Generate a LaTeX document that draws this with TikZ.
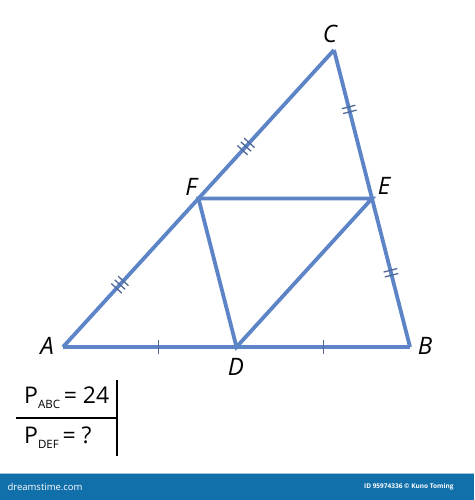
\documentclass[tikz,border=0pt]{standalone}
\usepackage{fontspec}
\setmainfont{Open Sans}
\usetikzlibrary{positioning,decorations.markings}

\definecolor{sideblue}{RGB}{92,132,198}
\definecolor{tickblue}{RGB}{80,105,150}
\definecolor{barblue}{RGB}{17,112,170}

\tikzset{
  side/.style={draw=sideblue, line width=3.8pt},
  tickline/.style={draw=tickblue, line width=1.3pt},
  vlabel/.style={font=\fontsize{24}{24}\selectfont\itshape, inner sep=0pt},
  calc/.style={font=\fontsize{23}{23}\selectfont, inner sep=0pt, anchor=base west},
  onetick/.style={postaction={decorate, decoration={markings,
      mark=at position #1 with {\draw[tickline] (0,-7pt) -- (0,7pt);}}}},
  twotick/.style={postaction={decorate, decoration={markings,
      mark=at position #1 with {\draw[tickline] (-2.5pt,-7pt) -- (-2.5pt,7pt) (2.5pt,-7pt) -- (2.5pt,7pt);}}}},
  threetick/.style={postaction={decorate, decoration={markings,
      mark=at position #1 with {\draw[tickline] (-5pt,-7pt) -- (-5pt,7pt) (0,-7pt) -- (0,7pt) (5pt,-7pt) -- (5pt,7pt);}}}}
}

\begin{document}
\begin{tikzpicture}[x=1pt,y=-1pt]
  \useasboundingbox (0,0) rectangle (474,500);

  % vertices and midpoints
  \coordinate (A) at (63,347);
  \coordinate (B) at (410,347);
  \coordinate (C) at (334,50);
  \coordinate (D) at (236.5,347);
  \coordinate (E) at (372,198.5);
  \coordinate (F) at (198.5,198.5);

  % big triangle
  \draw[side, onetick=0.55] (A) -- (D);
  \draw[side, onetick=0.5] (D) -- (B);
  \draw[side, twotick=0.5] (B) -- (E);
  \draw[side, twotick=0.6] (E) -- (C);
  \draw[side, threetick=0.42] (A) -- (F);
  \draw[side, threetick=0.35] (F) -- (C);

  % midpoint triangle
  \draw[side] (F) -- (E) -- (D) -- cycle;

  \node[vlabel] (lblA) at (47,346) {A};
  \node[vlabel] (lblB) at (425,346) {B};
  \node[vlabel] (lblC) at (330,34) {C};
  \node[vlabel] (lblD) at (236,367) {D};
  \node[vlabel] (lblE) at (384,186) {E};
  \node[vlabel] (lblF) at (191,187) {F};

  % given / asked
  \node[calc] (pabc) at (24,403) {P\raisebox{-5pt}{\fontsize{11.5}{11.5}\selectfont ABC}\,= 24};
  \node[calc] (pdef) at (24,443) {P\raisebox{-5pt}{\fontsize{11.5}{11.5}\selectfont DEF}\,= ?};
  \coordinate (hl) at (16,418);
  \coordinate (hr) at (117,418);
  \coordinate (vt) at (117,380);
  \coordinate (vb) at (117,456);
  \draw[line width=2pt] (hl) -- (hr);
  \draw[line width=2pt] (vt) -- (vb);

  % bottom bar
  \fill[barblue] (0,473) rectangle (474,500);
  \draw[white!60!barblue, line width=0.8pt] (0,473.5) -- (474,473.5);
  \node[font=\fontsize{9.5}{9.5}\selectfont, text=white, anchor=west] (site) at (4,487) {dreamstime.com};
  \node[font=\fontsize{6.5}{6.5}\selectfont\bfseries, text=white, anchor=east] (credit) at (457,487) {ID 95974336 © Kuno Toming};
\end{tikzpicture}
\end{document}
